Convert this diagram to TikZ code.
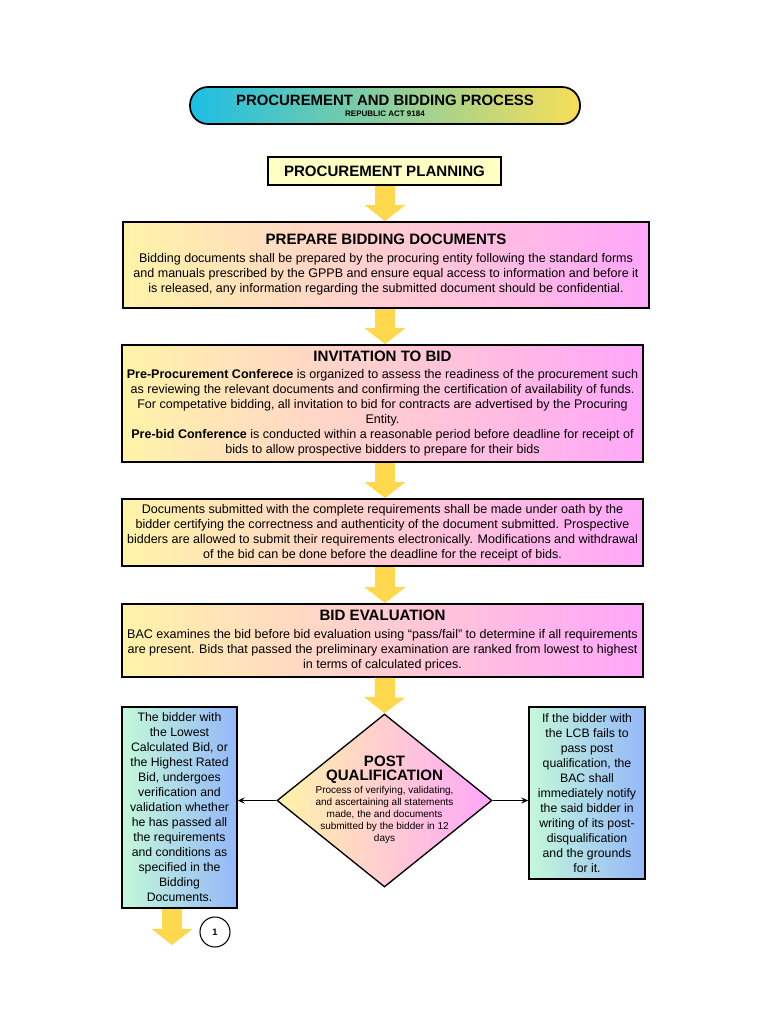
\documentclass[tikz,border=0pt]{standalone}
\usepackage{fontspec}
\setmainfont{Liberation Sans}
\usetikzlibrary{arrows.meta,shapes.geometric}
\definecolor{arrowyellow}{RGB}{255,216,78}
\definecolor{paleyellow}{RGB}{255,243,168}
\definecolor{palepink}{RGB}{255,166,250}
\definecolor{mint}{RGB}{196,248,218}
\definecolor{skyblue}{RGB}{148,184,248}
\definecolor{titlecyan}{RGB}{28,190,228}
\definecolor{titleyellow}{RGB}{248,222,88}
\definecolor{planyellow}{RGB}{255,255,196}
\newcommand\stagehead[1]{{\fontsize{11.3}{11.25}\selectfont\bfseries #1}}

\begin{document}
\begin{tikzpicture}[x=0.75pt,y=-0.75pt,
  stagebox/.style={draw,line width=1.3pt,left color=paleyellow,right color=palepink,align=center,inner sep=0pt,font=\fontsize{9.4}{11.25}\selectfont},
  sidebox/.style={draw,line width=1.3pt,left color=mint,right color=skyblue,align=center,inner sep=0pt,font=\fontsize{9.2}{11.25}\selectfont},
  flowarrow/.style={draw=arrowyellow,line width=15pt,-{Triangle[width=30pt,length=12pt]}},
  sidelink/.style={draw,line width=0.8pt,-{Stealth[length=5pt,width=4.5pt]}}]
\fill[white] (0,0) rectangle (768,1024);
\useasboundingbox (0,0) rectangle (768,1024);

\node[draw,line width=1.3pt,rounded corners=13.5pt,left color=titlecyan,right color=titleyellow,minimum width=292.5pt,minimum height=27.75pt,align=center,inner sep=0pt,font=\fontsize{6}{8.5}\selectfont] (title) at (385,105.5) {{\fontsize{11.2}{9}\selectfont\bfseries PROCUREMENT AND BIDDING PROCESS}\\{\bfseries REPUBLIC ACT 9184}};

\node[draw,line width=1.3pt,fill=planyellow,minimum width=174.75pt,minimum height=21pt,inner sep=0pt] (planning) at (384.5,171) {\stagehead{PROCUREMENT PLANNING}};

\node[stagebox,minimum width=394.5pt,minimum height=64.5pt] (prepare) at (386,265) {\stagehead{PREPARE BIDDING DOCUMENTS}\\[2.25pt]
Bidding documents shall be prepared by the procuring entity following the standard forms\\
and manuals prescribed by the GPPB and ensure equal access to information and before it\\
is released, any information regarding the submitted document should be confidential.};

\node[stagebox,minimum width=390.75pt,minimum height=87.75pt] (invitation) at (382.5,403.5) {\stagehead{INVITATION TO BID}\\[1.5pt]
\textbf{Pre-Procurement Conferece} is organized to assess the readiness of the procurement such\\
as reviewing the relevant documents and confirming the certification of availability of funds.\\
For competative bidding, all invitation to bid for contracts are advertised by the Procuring\\
Entity.\\
\textbf{Pre-bid Conference} is conducted within a reasonable period before deadline for receipt of\\
bids to allow prospective bidders to prepare for their bids};

\node[stagebox,minimum width=390.75pt,minimum height=50.25pt] (submission) at (382.5,532.5) {Documents submitted with the complete requirements shall be made under oath by the\\
bidder certifying the correctness and authenticity of the document submitted. Prospective\\
bidders are allowed to submit their requirements electronically. Modifications and withdrawal\\
of the bid can be done before the deadline for the receipt of bids.};

\node[stagebox,minimum width=390.75pt,minimum height=54.75pt] (evaluation) at (382.5,640.5) {\stagehead{BID EVALUATION}\\[2.25pt]
BAC examines the bid before bid evaluation using “pass/fail” to determine if all requirements\\
are present. Bids that passed the preliminary examination are ranked from lowest to highest\\
in terms of calculated prices.};

\node[diamond,draw,line width=1pt,left color=paleyellow,right color=palepink,minimum width=161.25pt,minimum height=129.75pt,inner sep=0pt] (postq) at (384.5,800.5) {};
\node[align=center,font=\fontsize{7.5}{9}\selectfont] (postqtext) at (384.5,799.5) {\stagehead{POST}\\[1.5pt]\stagehead{QUALIFICATION}\\[0.5pt]
Process of verifying, validating,\\
and ascertaining all statements\\
made, the and documents\\
submitted by the bidder in 12\\
days};

\node[sidebox,minimum width=86.25pt,minimum height=150.75pt] (lowbid) at (179.5,807.5) {The bidder with\\the Lowest\\Calculated Bid, or\\the Highest Rated\\Bid, undergoes\\verification and\\validation whether\\he has passed all\\the requirements\\and conditions as\\specified in the\\Bidding\\Documents.};

\node[sidebox,minimum width=87pt,minimum height=129pt] (failbid) at (587,793) {If the bidder with\\the LCB fails to\\pass post\\qualification, the\\BAC shall\\immediately notify\\the said bidder in\\writing of its post-\\disqualification\\and the grounds\\for it.};

\node[draw,circle,line width=0.8pt,minimum size=22.5pt,inner sep=0pt,font=\fontsize{7}{8}\selectfont\bfseries] (nextpage) at (215,932) {1};
\coordinate (spine) at (385,0);
\coordinate (contd) at (172,945);

\path[flowarrow] (planning.south -| spine) -- (prepare.north -| spine);
\path[flowarrow] (prepare.south -| spine) -- (invitation.north -| spine);
\path[flowarrow] (invitation.south -| spine) -- (submission.north -| spine);
\path[flowarrow] (submission.south -| spine) -- (evaluation.north -| spine);
\path[flowarrow] (evaluation.south -| spine) -- (postq.north);
\path[flowarrow] (contd |- lowbid.south) -- (contd);
\path[sidelink] (postq.west) -- (postq.west -| lowbid.east);
\path[sidelink] (postq.east) -- (postq.east -| failbid.west);
\end{tikzpicture}
\end{document}
